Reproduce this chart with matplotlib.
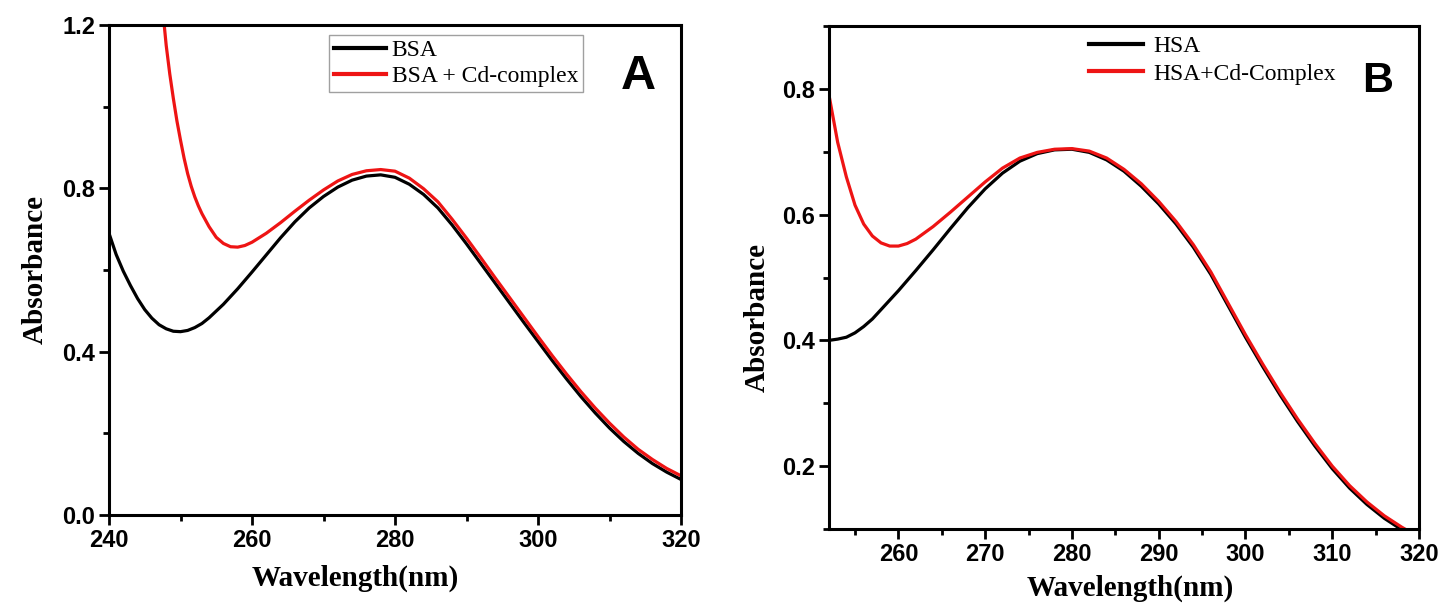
import numpy as np
import matplotlib
matplotlib.use("Agg")
import matplotlib.pyplot as plt
from matplotlib.ticker import MultipleLocator

# Panel A: BSA
wl_a_black = [240, 241, 242, 243, 244, 245, 246, 247, 248, 249, 250, 251, 252, 253, 254,
              256, 258, 260, 262, 264, 266, 268, 270, 272, 274, 276, 278, 280, 282, 284,
              286, 288, 290, 292, 294, 296, 298, 300, 302, 304, 306, 308, 310, 312, 314,
              316, 318, 320]
bsa = [0.690, 0.638, 0.597, 0.562, 0.530, 0.503, 0.482, 0.466, 0.456, 0.450, 0.449, 0.452,
       0.459, 0.469, 0.483, 0.516, 0.554, 0.595, 0.637, 0.679, 0.718, 0.752, 0.780, 0.803,
       0.820, 0.830, 0.833, 0.827, 0.810, 0.785, 0.752, 0.710, 0.664, 0.616, 0.568, 0.520,
       0.472, 0.425, 0.378, 0.333, 0.290, 0.250, 0.213, 0.180, 0.151, 0.126, 0.105, 0.087]

wl_a_red = [247.5, 248, 248.5, 249, 249.5, 250, 250.5, 251, 251.5, 252, 252.5, 253, 254,
            255, 256, 257, 258, 259, 260, 262, 264, 266, 268, 270, 272, 274, 276, 278, 280,
            282, 284, 286, 288, 290, 292, 294, 296, 298, 300, 302, 304, 306, 308, 310, 312,
            314, 316, 318, 320]
bsa_cd = [1.24, 1.15, 1.08, 1.02, 0.965, 0.918, 0.874, 0.836, 0.805, 0.779, 0.757, 0.738,
          0.706, 0.680, 0.665, 0.657, 0.656, 0.660, 0.668, 0.690, 0.716, 0.744, 0.771, 0.796,
          0.818, 0.834, 0.843, 0.846, 0.842, 0.825, 0.799, 0.767, 0.724, 0.678, 0.630, 0.581,
          0.533, 0.485, 0.437, 0.390, 0.345, 0.302, 0.262, 0.225, 0.191, 0.161, 0.136, 0.114,
          0.096]

# Panel B: HSA
wl_b = [252, 253, 254, 255, 256, 257, 258, 259, 260, 261, 262, 264, 266, 268, 270, 272, 274,
        276, 278, 280, 282, 284, 286, 288, 290, 292, 294, 296, 298, 300, 302, 304, 306, 308,
        310, 312, 314, 316, 318, 319]
hsa = [0.400, 0.402, 0.405, 0.412, 0.422, 0.434, 0.449, 0.464, 0.479, 0.495, 0.511, 0.544,
       0.578, 0.611, 0.641, 0.666, 0.685, 0.697, 0.703, 0.704, 0.699, 0.687, 0.669, 0.645,
       0.617, 0.585, 0.548, 0.505, 0.455, 0.405, 0.358, 0.313, 0.271, 0.232, 0.196, 0.165,
       0.139, 0.117, 0.099, 0.091]
hsa_cd = [0.790, 0.715, 0.660, 0.615, 0.585, 0.566, 0.555, 0.550, 0.550, 0.554, 0.561, 0.581,
          0.604, 0.628, 0.652, 0.674, 0.690, 0.699, 0.704, 0.705, 0.701, 0.690, 0.672, 0.649,
          0.621, 0.589, 0.552, 0.509, 0.459, 0.409, 0.362, 0.317, 0.275, 0.236, 0.200, 0.169,
          0.143, 0.121, 0.103, 0.095]

RED = "#ee1414"
serif = "Liberation Serif"
sans = "Liberation Sans"

fig = plt.figure(figsize=(14.4, 6.07), dpi=100)
W, H = 1440, 607


def add_axes(l, r, t, b):
    return fig.add_axes([l / W, (H - b) / H, (r - l) / W, (b - t) / H])


def style(ax):
    for s in ax.spines.values():
        s.set_linewidth(2.2)
    ax.tick_params(which="major", direction="out", length=7, width=2, pad=3,
                   labelsize=17)
    ax.tick_params(which="minor", direction="out", length=4, width=2)
    for lab in ax.get_xticklabels() + ax.get_yticklabels():
        lab.set_fontfamily(sans)
        lab.set_fontweight("bold")


# ---- Panel A ----
axA = add_axes(109, 681, 25, 515)
axA.plot(wl_a_black, bsa, color="black", lw=2.3, label="BSA")
axA.plot(wl_a_red, bsa_cd, color=RED, lw=2.3, label="BSA + Cd-complex")
axA.set_xlim(240, 320)
axA.set_ylim(0, 1.2)
axA.xaxis.set_major_locator(MultipleLocator(20))
axA.xaxis.set_minor_locator(MultipleLocator(10))
axA.yaxis.set_major_locator(MultipleLocator(0.4))
axA.yaxis.set_minor_locator(MultipleLocator(0.2))
axA.yaxis.set_major_formatter(plt.FormatStrFormatter("%.1f"))
style(axA)
legA = axA.legend(loc="upper left", bbox_to_anchor=(0.385, 0.98), frameon=True,
                  fancybox=False, edgecolor="#888888", borderpad=0.2,
                  handlelength=2.2, handletextpad=0.25, labelspacing=0.2,
                  borderaxespad=0, prop={"family": serif, "size": 17})
legA.get_frame().set_linewidth(1.0)
for line in legA.get_lines():
    line.set_linewidth(3)
axA.text(0.925, 0.895, "A", transform=axA.transAxes, ha="center", va="center",
         fontsize=35, fontweight="bold", family=sans)
axA.set_xlabel("Wavelength(nm)", fontsize=21, fontweight="bold", family=serif)
axA.xaxis.label.set_va("center")
axA.xaxis.set_label_coords(0.43, -0.129)
axA.set_ylabel("Absorbance", fontsize=21, fontweight="bold", family=serif)
axA.yaxis.label.set_va("center")
axA.yaxis.set_label_coords(-0.129, 0.5)

# ---- Panel B ----
axB = add_axes(829, 1419, 26, 529)
axB.plot(wl_b, hsa, color="black", lw=2.3, label="HSA")
axB.plot(wl_b, hsa_cd, color=RED, lw=2.3, label="HSA+Cd-Complex")
axB.set_xlim(252, 320)
axB.set_ylim(0.1, 0.9)
axB.xaxis.set_major_locator(MultipleLocator(10))
axB.xaxis.set_minor_locator(MultipleLocator(5))
axB.yaxis.set_major_locator(MultipleLocator(0.2))
axB.yaxis.set_minor_locator(MultipleLocator(0.1))
axB.yaxis.set_major_formatter(plt.FormatStrFormatter("%.1f"))
axB.set_yticks([0.2, 0.4, 0.6, 0.8])
style(axB)
legB = axB.legend(loc="upper left", bbox_to_anchor=(0.432, 0.99), frameon=False,
                  borderpad=0.2, handlelength=2.3, handletextpad=0.45,
                  labelspacing=0.25, borderaxespad=0,
                  prop={"family": serif, "size": 17})
for line in legB.get_lines():
    line.set_linewidth(3)
axB.text(0.93, 0.89, "B", transform=axB.transAxes, ha="center", va="center",
         fontsize=31, fontweight="bold", family=sans)
axB.set_xlabel("Wavelength(nm)", fontsize=21, fontweight="bold", family=serif)
axB.xaxis.label.set_va("center")
axB.xaxis.set_label_coords(0.51, -0.117)
axB.set_ylabel("Absorbance", fontsize=21, fontweight="bold", family=serif)
axB.yaxis.label.set_va("center")
axB.yaxis.set_label_coords(-0.122, 0.42)

fig.savefig("out.png", dpi=100)
